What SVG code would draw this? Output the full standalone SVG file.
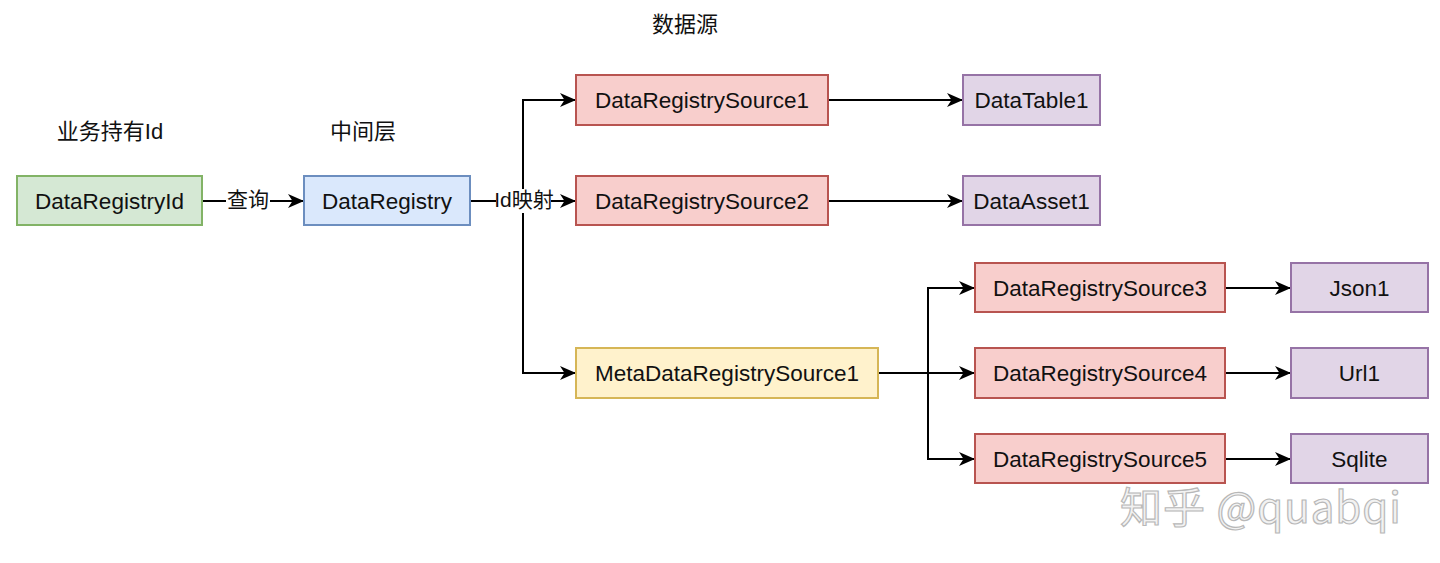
<svg xmlns="http://www.w3.org/2000/svg" width="1440" height="563" viewBox="0 0 1440 563">
<style>
.t{font-family:"Liberation Sans","Noto Sans CJK SC",Arial,sans-serif;font-size:22.5px;fill:#111;text-anchor:middle;dominant-baseline:central}
.lb{font-family:"Liberation Sans","Noto Sans CJK SC",sans-serif;font-size:22px;fill:#111;text-anchor:middle;dominant-baseline:central}
.e{fill:none;stroke:#000;stroke-width:2}
.g{fill:#d5e8d4;stroke:#82b366;stroke-width:2}
.b{fill:#dae8fc;stroke:#6c8ebf;stroke-width:2}
.r{fill:#f8cecc;stroke:#b85450;stroke-width:2}
.y{fill:#fff2cc;stroke:#d6b656;stroke-width:2}
.p{fill:#e1d5e7;stroke:#9673a6;stroke-width:2}
</style>
<defs>
<marker id="a" markerWidth="16" markerHeight="14" refX="15" refY="7" orient="auto" markerUnits="userSpaceOnUse">
<path d="M0,0 L16,7 L0,14 L4.5,7 Z" fill="#000"/>
</marker>
</defs>
<g id="labels">
<text class="lb" x="110" y="131">业务持有Id</text>
<text class="lb" x="363" y="131">中间层</text>
<text class="lb" x="685" y="24">数据源</text>
</g>
<g id="connectors">
<path class="e" d="M202,201 H303" marker-end="url(#a)"/>
<rect x="226" y="189" width="44" height="24" fill="#fff"/>
<text class="lb" x="248" y="199" style="font-size:21px">查询</text>
<path class="e" d="M470,201 H575" marker-end="url(#a)"/>
<path class="e" d="M523,201 V100 H575" marker-end="url(#a)"/>
<path class="e" d="M523,201 V373 H575" marker-end="url(#a)"/>
<rect x="496" y="189" width="55" height="24" fill="#fff"/>
<text class="lb" x="524" y="199" style="font-size:21px">Id映射</text>
<path class="e" d="M828,100 H962" marker-end="url(#a)"/>
<path class="e" d="M828,201 H962" marker-end="url(#a)"/>
<path class="e" d="M878,373 H974" marker-end="url(#a)"/>
<path class="e" d="M928,373 V288 H974" marker-end="url(#a)"/>
<path class="e" d="M928,373 V459 H974" marker-end="url(#a)"/>
<path class="e" d="M1225,288 H1290" marker-end="url(#a)"/>
<path class="e" d="M1225,373 H1290" marker-end="url(#a)"/>
<path class="e" d="M1225,459 H1290" marker-end="url(#a)"/>
</g>
<g id="n-dataregistryid"><rect class="g" x="17" y="176" width="185" height="49"/><text class="t" x="109.5" y="201">DataRegistryId</text></g>
<g id="n-dataregistry"><rect class="b" x="304" y="176" width="166" height="49"/><text class="t" x="387" y="201">DataRegistry</text></g>
<g id="n-drs1"><rect class="r" x="576" y="75" width="252" height="50"/><text class="t" x="702" y="100">DataRegistrySource1</text></g>
<g id="n-drs2"><rect class="r" x="576" y="176" width="252" height="49"/><text class="t" x="702" y="201">DataRegistrySource2</text></g>
<g id="n-meta"><rect class="y" x="576" y="348" width="302" height="50"/><text class="t" x="727" y="373">MetaDataRegistrySource1</text></g>
<g id="n-datatable1"><rect class="p" x="963" y="75" width="137" height="50"/><text class="t" x="1031.5" y="100">DataTable1</text></g>
<g id="n-dataasset1"><rect class="p" x="963" y="176" width="137" height="49"/><text class="t" x="1031.5" y="201">DataAsset1</text></g>
<g id="n-drs3"><rect class="r" x="975" y="263" width="250" height="49"/><text class="t" x="1100" y="288">DataRegistrySource3</text></g>
<g id="n-drs4"><rect class="r" x="975" y="348" width="250" height="50"/><text class="t" x="1100" y="373">DataRegistrySource4</text></g>
<g id="n-drs5"><rect class="r" x="975" y="434" width="250" height="49"/><text class="t" x="1100" y="459">DataRegistrySource5</text></g>
<g id="n-json1"><rect class="p" x="1291" y="263" width="137" height="49"/><text class="t" x="1359.5" y="288">Json1</text></g>
<g id="n-url1"><rect class="p" x="1291" y="348" width="137" height="50"/><text class="t" x="1359.5" y="373">Url1</text></g>
<g id="n-sqlite"><rect class="p" x="1291" y="434" width="137" height="49"/><text class="t" x="1359.5" y="459">Sqlite</text></g>
<g id="watermark"><text x="1120" y="523" font-family="'Noto Sans CJK SC','Liberation Sans',sans-serif" font-size="42" letter-spacing="1" fill="#f2f2f2" stroke="#b8b8b8" stroke-width="1.2">知乎 @quabqi</text></g>
</svg>
